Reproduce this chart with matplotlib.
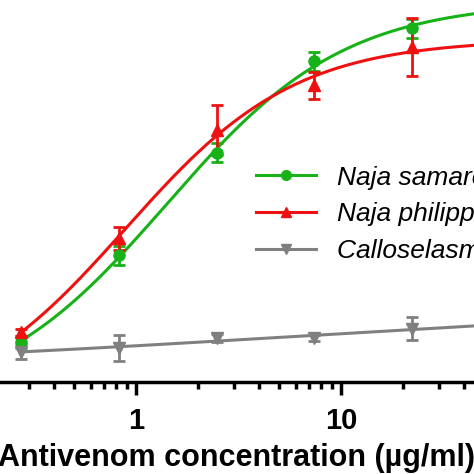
import numpy as np
import matplotlib
matplotlib.use("Agg")
import matplotlib.pyplot as plt

plt.rcParams['font.family'] = ['Liberation Sans', 'DejaVu Sans']

conc = [0.274, 0.823, 2.47, 7.41, 22.2]
green = [10.5, 33.2, 60.0, 84.0, 92.6]
green_err = [1.5, 2.5, 2.5, 2.5, 2.5]
red = [13.0, 37.6, 66.0, 77.7, 87.7]
red_err = [1.0, 3.0, 6.5, 3.5, 7.5]
gray = [7.9, 8.9, 11.5, 11.5, 14.0]
gray_err = [2.0, 3.3, 1.0, 0.8, 3.0]
labels = ["Naja samarensis", "Naja philippinensis", "Calloselasma rhodostoma"]
colors = ["#17b217", "#ee1111", "#808080"]
markers = ["o", "^", "v"]

def hill_fit(x, y):
    lx = np.log10(x); y = np.asarray(y)
    best = None
    for ec in np.linspace(-1, 2.5, 71):
        for h in np.linspace(0.3, 3, 55):
            s = 1 / (1 + 10 ** ((ec - lx) * h))
            A = np.vstack([np.ones_like(s), s]).T
            coef, *_ = np.linalg.lstsq(A, y, rcond=None)
            r = np.sum((A @ coef - y) ** 2)
            if best is None or r < best[0]:
                best = (r, ec, h, coef)
    _, ec, h, coef = best
    return lambda xx: coef[0] + coef[1] / (1 + 10 ** ((ec - np.log10(xx)) * h))

fig = plt.figure(figsize=(4.74, 4.74), dpi=100)
ax = fig.add_axes([0, 92/474, 1, 382/474])
xlo = 10 ** (-136/205); xhi = 10 ** ((474-136)/205)
ax.set_xscale('log')
ax.set_xlim(xlo, xhi)
ax.set_ylim(0, 100)

xs = np.logspace(np.log10(conc[0]), np.log10(80), 300)
for ys, es, c, m, lab in zip([green, red, gray], [green_err, red_err, gray_err], colors, markers, labels):
    f = hill_fit(conc, ys)
    ax.plot(xs, f(xs), color=c, lw=2.2, zorder=2)
    ax.errorbar(conc, ys, yerr=es, fmt=m, color=c, ms=8, elinewidth=2, capsize=4, capthick=2, zorder=3)
    ax.plot([], [], color=c, marker=m, ms=7, lw=2.2, label=lab)

for s in ['left', 'top', 'right']:
    ax.spines[s].set_visible(False)
ax.spines['bottom'].set_linewidth(2.5)
ax.tick_params(axis='x', which='major', length=9, width=2.5, labelsize=21, pad=9)
ax.tick_params(axis='x', which='minor', length=5, width=2.5)
ax.set_yticks([])
ax.set_xticks([1, 10])
ax.set_xticklabels(['1', '10'], fontweight='bold')
ax.set_xlabel('Antivenom concentration (µg/ml)', fontsize=22, fontweight='bold', labelpad=6)

fig.legend(loc='upper left', bbox_to_anchor=(245/474, 1 - 155/474), frameon=False,
           prop={'size': 19, 'style': 'italic'}, handlelength=2.3, labelspacing=0.48, borderaxespad=0)
fig.savefig('out.png', dpi=100)
